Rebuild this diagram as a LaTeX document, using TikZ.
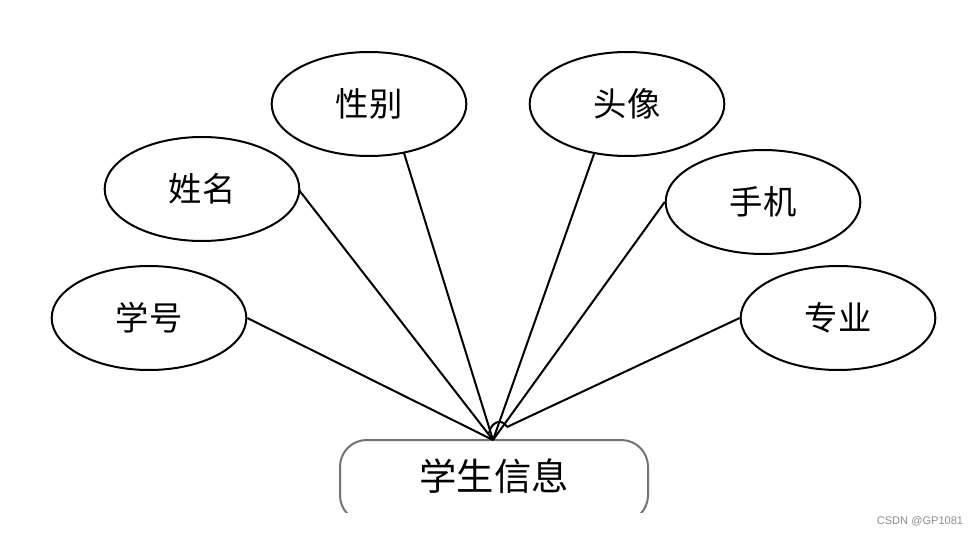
\documentclass[tikz,border=0pt]{standalone}
\usepackage{fontspec}
\newfontfamily\cjk{Noto Sans CJK SC}
\setsansfont{Liberation Sans}
\usetikzlibrary{shapes.geometric}
\tikzset{
  attr/.style={ellipse, draw=black, line width=1.5pt, minimum width=146pt, minimum height=78pt, inner sep=0pt, font=\cjk\fontsize{25}{25}\selectfont},
  link/.style={draw=black, line width=1.5pt},
}
\begin{document}
\begin{tikzpicture}[x=0.75pt,y=-0.75pt]
\useasboundingbox (0,0) rectangle (979,535);
\fill[white] (0,0) rectangle (979,535);
% entity box (clipped at bottom)
\begin{scope}
\clip (300,430) rectangle (700,512.5);
\draw[draw=black!55, line width=1.5pt, rounded corners=20pt] (340,440) rectangle (648,522);
\end{scope}
\node[font=\cjk\fontsize{28}{28}\selectfont, inner sep=0pt] (ent) at (494,476) {学生信息};
\coordinate (j) at (493,440);
\coordinate (jr) at (507,427);
% attributes
\node[attr] (xh) at (149,318) {学号};
\node[attr] (xm) at (202,189) {姓名};
\node[attr] (xb) at (369,104) {性别};
\node[attr] (tx) at (627,104) {头像};
\node[attr] (sj) at (763,202) {手机};
\node[attr] (zy) at (838,318) {专业};
% connectors
\draw[link] (xh.east) -- (j);
\draw[link] (xm) ++(97,1) coordinate (a2) (a2) -- (j);
\draw[link] (404,153) coordinate (a3) -- (j);
\draw[link] (594,154) coordinate (a4) -- (j);
\draw[link] (sj.west) -- (j);
\draw[link] (zy.west) -- (jr);
\draw[link] (jr) .. controls (503,419) and (492,420) .. (489,433);
% watermark
\node[font=\sffamily\fontsize{8.3}{9}\selectfont, text=black!45, inner sep=0pt] (wm) at (920,521) {CSDN @GP1081};
\end{tikzpicture}
\end{document}
